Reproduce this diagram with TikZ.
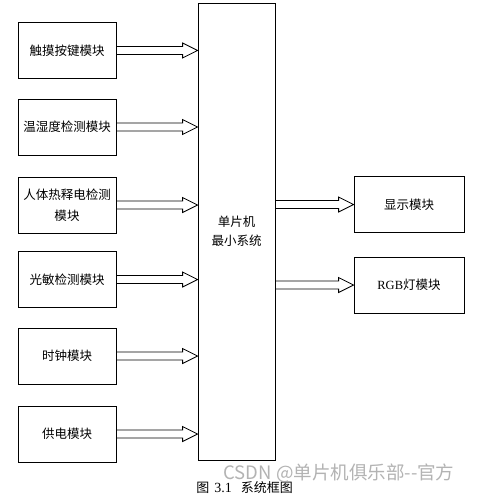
\documentclass[tikz,border=0pt]{standalone}
\usepackage{fontspec}
\newfontfamily\cjk{Noto Sans CJK SC}
\newfontfamily\serifnum{Liberation Serif}
\usetikzlibrary{calc}
\tikzset{
  module/.style={draw=black, line width=0.8pt, minimum width=98pt, minimum height=56pt, inner sep=0pt, align=center, font=\cjk\fontsize{12.5}{21}\selectfont},
  outmod/.style={draw=black, line width=0.8pt, minimum width=110pt, minimum height=56pt, inner sep=0pt, align=center, font=\cjk\fontsize{12.5}{21}\selectfont},
  hollow/.style={draw=black, line width=0.8pt, to path={let \p1=(\tikztostart), \p2=(\tikztotarget) in
     (\x1,\y1+4pt) -- (\x2-15pt,\y1+4pt) -- (\x2-15pt,\y1+7.5pt) -- (\x2,\y1) -- (\x2-15pt,\y1-7.5pt) -- (\x2-15pt,\y1-4pt) -- (\x1,\y1-4pt)}}
}
\begin{document}
\begin{tikzpicture}[x=1pt,y=-1pt]
\useasboundingbox (0,0) rectangle (476,497);
\fill[white] (0,0) rectangle (476,497);
% central box
\node[draw=black, line width=0.8pt, minimum width=77pt, minimum height=457pt, inner sep=0pt, align=center, font=\cjk\fontsize{12.5}{19}\selectfont] (mcu) at (236.5,231.5) {单片机\\最小系统};
% input modules
\node[module] (b1) at (67,50.5) {触摸按键模块};
\node[module] (b2) at (67,127) {温湿度检测模块};
\node[module] (b3) at (67,205) {人体热释电检测\\模块};
\node[module] (b4) at (67,279.5) {光敏检测模块};
\node[module] (b5) at (67,356) {时钟模块};
\node[module] (b6) at (67,434) {供电模块};
% output modules
\node[outmod] (r1) at (409,204.5) {显示模块};
\node[outmod] (r2) at (409,285) {\serifnum RGB\cjk 灯模块};
% arrows
\foreach \b in {b1,b2,b3,b4,b5,b6}
  \draw[hollow] (\b.east) to (mcu.west |- \b.east);
\draw[hollow] (mcu.east |- r1.west) to (r1.west);
\draw[hollow] (mcu.east |- r2.west) to (r2.west);
% caption
\node[font=\cjk\fontsize{13}{14}\selectfont, inner sep=0pt] (cap) at (244.5,488) {图\hspace{5pt}{\serifnum\fontsize{14}{14}\selectfont 3.1}\hspace{9pt}系统框图};
% watermark
\node[font=\cjk\fontsize{18.5}{20}\selectfont, text=black!35, opacity=0.85, inner sep=0pt] (wm) at (339,473) {CSDN @单片机俱乐部--官方};
\end{tikzpicture}
\end{document}
